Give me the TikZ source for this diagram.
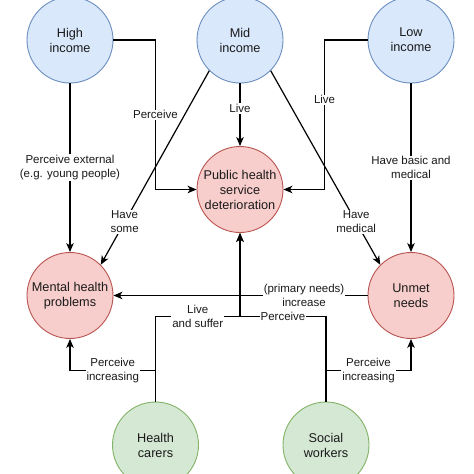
\documentclass[tikz,border=0pt]{standalone}
\usepackage{fontspec}
\setmainfont{Liberation Sans}
\usetikzlibrary{arrows.meta}
\definecolor{bluef}{HTML}{DAE8FC}\definecolor{blued}{HTML}{6C8EBF}
\definecolor{redf}{HTML}{F8CECC}\definecolor{redd}{HTML}{B85450}
\definecolor{greenf}{HTML}{D5E8D4}\definecolor{greend}{HTML}{82B366}
\definecolor{txt}{HTML}{1A1A1A}
\tikzset{
  circ/.style={circle, minimum size=86pt, inner sep=0pt, line width=0.9pt, align=center, text=txt,
    font=\fontsize{12.7pt}{15pt}\selectfont},
  bluec/.style={circ, fill=bluef, draw=blued},
  redc/.style={circ, fill=redf, draw=redd},
  greenc/.style={circ, fill=greenf, draw=greend},
  arr/.style={line width=1.2pt, draw=black, -{Stealth[length=9pt,width=7.5pt,inset=2.5pt]}},
  lbl/.style={fill=white, inner sep=1pt, align=center, text=txt, font=\fontsize{11.5pt}{14pt}\selectfont}
}
\begin{document}
\begin{tikzpicture}[x=1pt,y=-1pt]
\useasboundingbox (0,0) rectangle (474,474);
\fill[white] (0,0) rectangle (474,474);
% nodes
\node[bluec] (hi) at (70,40) {High\\income};
\node[bluec] (mi) at (240,40) {Mid\\income};
\node[bluec] (lo) at (411,40) {Low\\income};
\node[redc] (ph) at (240,189.5) {Public health\\service\\deterioration};
\node[redc] (mh) at (70,295.5) {Mental health\\problems};
\node[redc] (un) at (411,295.5) {Unmet\\needs};
\node[greenc] (hc) at (155.5,445) {Health\\carers};
\node[greenc] (sw) at (326,445) {Social\\workers};
% edges
\draw[arr] (hi.east) -- ++(42,0) |- (ph.west) node[lbl,pos=0.25]{Perceive};
\draw[arr] (hi.south) -- (mh.north) node[lbl,pos=0.5]{Perceive external\\(e.g. young people)};
\draw[arr] (mi.south) -- (ph.north) node[lbl,pos=0.4]{Live};
\draw[arr] (mi.225) -- (mh.45) node[lbl,pos=0.78]{Have\\some};
\draw[arr] (mi.-45) -- (un.135) node[lbl,pos=0.78]{Have\\medical};
\draw[arr] (lo.west) -- ++(-43,0) |- (ph.east) node[lbl,pos=0.2]{Live};
\draw[arr] (lo.south) -- (un.north) node[lbl,pos=0.5]{Have basic and\\medical};
\draw[arr] (un.west) -- (mh.east) node[lbl,pos=0.25]{(primary needs)\\increase};
\draw[arr] (hc.north) -- ++(0,-85) -| (ph.south) node[lbl,pos=0.25]{Live\\and suffer};
\draw[arr] (hc.north) -- ++(0,-31) -| (mh.south) node[lbl,pos=0.25]{Perceive\\increasing};
\draw[arr] (sw.north) -- ++(0,-85) -| (ph.south) node[lbl,pos=0.25,inner sep=0.5pt]{Perceive};
\draw[arr] (sw.north) -- ++(0,-31) -| (un.south) node[lbl,pos=0.25]{Perceive\\increasing};
\end{tikzpicture}
\end{document}
